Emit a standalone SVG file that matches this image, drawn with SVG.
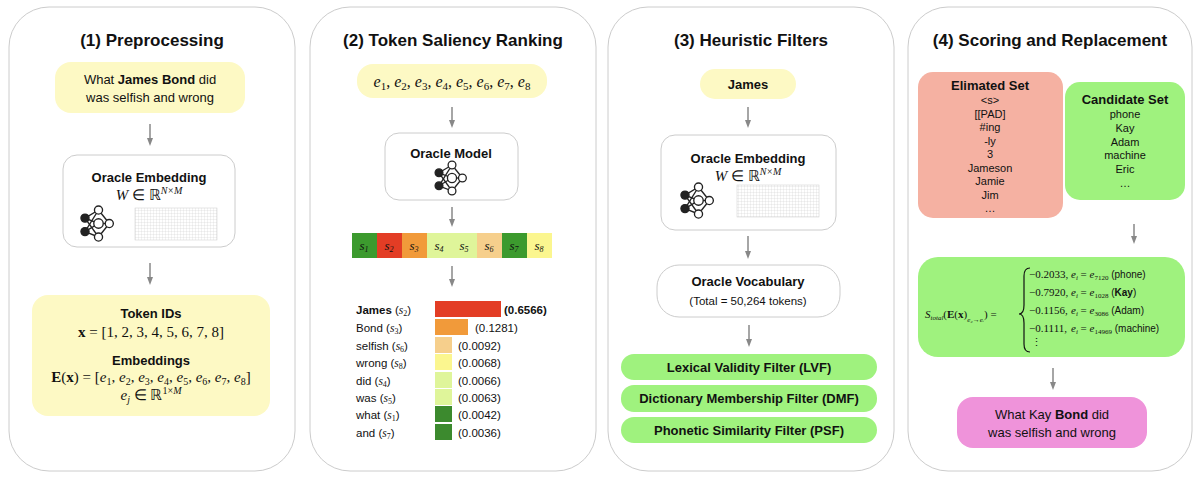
<svg xmlns="http://www.w3.org/2000/svg" width="1203" height="501" viewBox="0 0 1203 501">
<defs>
<marker id="ah" markerWidth="8" markerHeight="8" refX="4" refY="4" orient="auto" markerUnits="userSpaceOnUse"><path d="M0,1 L8,4 L0,7 Z" fill="#888"/></marker>
<pattern id="grid" width="3" height="3" patternUnits="userSpaceOnUse"><path d="M3,0 L0,0 0,3" fill="none" stroke="#ccc" stroke-width="0.5"/></pattern>
<g id="nn" fill="#fff" stroke="#222" stroke-width="1">
<line x1="0" y1="6" x2="10" y2="0"/><line x1="0" y1="6" x2="10" y2="10"/><line x1="0" y1="6" x2="10" y2="20"/>
<line x1="0" y1="16" x2="10" y2="0"/><line x1="0" y1="16" x2="10" y2="10"/><line x1="0" y1="16" x2="10" y2="20"/>
<line x1="10" y1="0" x2="18" y2="10"/><line x1="10" y1="10" x2="18" y2="10"/><line x1="10" y1="20" x2="18" y2="10"/>
<circle cx="0" cy="6" r="3" fill="#222"/><circle cx="0" cy="16" r="3" fill="#222"/>
<circle cx="10" cy="0" r="3"/><circle cx="10" cy="10" r="3.5"/><circle cx="10" cy="20" r="3"/><circle cx="18" cy="10" r="3"/>
</g>
</defs>
<style>
.panel{fill:#fff;stroke:#ccc;stroke-width:1}
.t{font-family:"Liberation Sans",Arial,sans-serif;fill:#111}
.title{font-family:"Liberation Sans",Arial,sans-serif;font-weight:bold;font-size:17px;text-anchor:middle;fill:#111}
.m{font-family:"Liberation Serif","Times New Roman",serif;fill:#111}
.b{font-weight:bold}
.c{text-anchor:middle}
.wbox{fill:#fff;stroke:#ccc;stroke-width:1}
.yel{fill:#fdf9c4}
.grn{fill:#9ff27e}
.conn line{stroke:#888;stroke-width:1.5;marker-end:url(#ah)}
</style>
<rect width="1203" height="501" fill="#fff"/>
<g id="panels">
<rect class="panel" x="9" y="7" width="286" height="464" rx="40"/>
<rect class="panel" x="310" y="7" width="286" height="464" rx="40"/>
<rect class="panel" x="608" y="7" width="286" height="464" rx="40"/>
<rect class="panel" x="908" y="7" width="284" height="464" rx="40"/>
<text class="title" x="152" y="46">(1) Preprocessing</text>
<text class="title" x="453" y="46">(2) Token Saliency Ranking</text>
<text class="title" x="751" y="46">(3) Heuristic Filters</text>
<text class="title" x="1050" y="46">(4) Scoring and Replacement</text>
</g>
<g id="input1">
<rect class="yel" x="55" y="62" width="190" height="51" rx="16"/>
<text class="t c" x="150" y="84" font-size="13">What <tspan class="b">James Bond</tspan> did</text>
<text class="t c" x="150" y="102" font-size="13">was selfish and wrong</text>
</g>
<g id="emb1">
<rect class="wbox" x="63" y="155" width="172" height="92" rx="14"/>
<text class="t c b" x="149" y="182" font-size="13">Oracle Embedding</text>
<text class="m c" x="149" y="200" font-size="15"><tspan font-style="italic">W</tspan> ∈ ℝ<tspan font-size="10" dy="-6" font-style="italic">N×M</tspan></text>
<use href="#nn" transform="translate(85 210) scale(1.35)"/>
<rect x="135" y="208" width="82" height="32" fill="url(#grid)" stroke="#ccc" stroke-width="0.5"/>
</g>
<g id="tokens1">
<rect class="yel" x="32" y="295" width="238" height="121" rx="16"/>
<text class="t c b" x="151" y="318" font-size="13">Token IDs</text>
<text class="m c" x="151" y="337" font-size="15"><tspan font-weight="bold">x</tspan> = [1, 2, 3, 4, 5, 6, 7, 8]</text>
<text class="t c b" x="151" y="365" font-size="13">Embeddings</text>
<text class="m c" x="151" y="382" font-size="15"><tspan font-weight="bold">E</tspan>(<tspan font-weight="bold">x</tspan>) = [<tspan font-style="italic">e</tspan><tspan font-size="10" dy="3">1</tspan><tspan dy="-3">, </tspan><tspan font-style="italic">e</tspan><tspan font-size="10" dy="3">2</tspan><tspan dy="-3">, </tspan><tspan font-style="italic">e</tspan><tspan font-size="10" dy="3">3</tspan><tspan dy="-3">, </tspan><tspan font-style="italic">e</tspan><tspan font-size="10" dy="3">4</tspan><tspan dy="-3">, </tspan><tspan font-style="italic">e</tspan><tspan font-size="10" dy="3">5</tspan><tspan dy="-3">, </tspan><tspan font-style="italic">e</tspan><tspan font-size="10" dy="3">6</tspan><tspan dy="-3">, </tspan><tspan font-style="italic">e</tspan><tspan font-size="10" dy="3">7</tspan><tspan dy="-3">, </tspan><tspan font-style="italic">e</tspan><tspan font-size="10" dy="3">8</tspan><tspan dy="-3">]</tspan></text>
<text class="m c" x="151" y="400" font-size="15"><tspan font-style="italic">e</tspan><tspan font-size="10" dy="3" font-style="italic">j</tspan><tspan dy="-3"> ∈ ℝ</tspan><tspan font-size="10" dy="-6">1×<tspan font-style="italic">M</tspan></tspan></text>
</g>
<g id="seq2">
<rect class="yel" x="357" y="64" width="190" height="34" rx="16"/>
<text class="m c" x="452" y="87" font-size="16"><tspan font-style="italic">e</tspan><tspan font-size="11" dy="3">1</tspan><tspan dy="-3">, </tspan><tspan font-style="italic">e</tspan><tspan font-size="11" dy="3">2</tspan><tspan dy="-3">, </tspan><tspan font-style="italic">e</tspan><tspan font-size="11" dy="3">3</tspan><tspan dy="-3">, </tspan><tspan font-style="italic">e</tspan><tspan font-size="11" dy="3">4</tspan><tspan dy="-3">, </tspan><tspan font-style="italic">e</tspan><tspan font-size="11" dy="3">5</tspan><tspan dy="-3">, </tspan><tspan font-style="italic">e</tspan><tspan font-size="11" dy="3">6</tspan><tspan dy="-3">, </tspan><tspan font-style="italic">e</tspan><tspan font-size="11" dy="3">7</tspan><tspan dy="-3">, </tspan><tspan font-style="italic">e</tspan><tspan font-size="11" dy="3">8</tspan></text>
</g>
<g id="model2">
<rect class="wbox" x="385" y="133" width="133" height="67" rx="14"/>
<text class="t c b" x="451" y="158" font-size="13">Oracle Model</text>
<use href="#nn" transform="translate(439 165) scale(1.3)"/>
</g>
<g id="strip2">
<rect x="352" y="233" width="25" height="25" fill="#3c9a2e"/>
<rect x="377" y="233" width="25" height="25" fill="#e33d25"/>
<rect x="402" y="233" width="25" height="25" fill="#f19a3a"/>
<rect x="427" y="233" width="25" height="25" fill="#dff59a"/>
<rect x="452" y="233" width="25" height="25" fill="#dff59a"/>
<rect x="477" y="233" width="25" height="25" fill="#f6cf8c"/>
<rect x="502" y="233" width="25" height="25" fill="#3c9a2e"/>
<rect x="527" y="233" width="25" height="25" fill="#fbf68f"/>
<g class="m" font-size="13" font-style="italic" text-anchor="middle">
<text x="364" y="250">s<tspan font-size="8" dy="2">1</tspan></text>
<text x="389" y="250">s<tspan font-size="8" dy="2">2</tspan></text>
<text x="414" y="250">s<tspan font-size="8" dy="2">3</tspan></text>
<text x="439" y="250">s<tspan font-size="8" dy="2">4</tspan></text>
<text x="464" y="250">s<tspan font-size="8" dy="2">5</tspan></text>
<text x="489" y="250">s<tspan font-size="8" dy="2">6</tspan></text>
<text x="514" y="250">s<tspan font-size="8" dy="2">7</tspan></text>
<text x="539" y="250">s<tspan font-size="8" dy="2">8</tspan></text>
</g>
</g>
<g id="ranking2" font-size="11.5">
<text class="t" x="356" y="314"><tspan class="b">James</tspan> (<tspan class="m" font-style="italic">s</tspan><tspan class="m" font-size="8" dy="2">2</tspan><tspan dy="-2">)</tspan></text>
<text class="t" x="356" y="332">Bond (<tspan class="m" font-style="italic">s</tspan><tspan class="m" font-size="8" dy="2">3</tspan><tspan dy="-2">)</tspan></text>
<text class="t" x="356" y="350">selfish (<tspan class="m" font-style="italic">s</tspan><tspan class="m" font-size="8" dy="2">6</tspan><tspan dy="-2">)</tspan></text>
<text class="t" x="356" y="367">wrong (<tspan class="m" font-style="italic">s</tspan><tspan class="m" font-size="8" dy="2">8</tspan><tspan dy="-2">)</tspan></text>
<text class="t" x="356" y="385">did (<tspan class="m" font-style="italic">s</tspan><tspan class="m" font-size="8" dy="2">4</tspan><tspan dy="-2">)</tspan></text>
<text class="t" x="356" y="402">was (<tspan class="m" font-style="italic">s</tspan><tspan class="m" font-size="8" dy="2">5</tspan><tspan dy="-2">)</tspan></text>
<text class="t" x="356" y="419">what (<tspan class="m" font-style="italic">s</tspan><tspan class="m" font-size="8" dy="2">1</tspan><tspan dy="-2">)</tspan></text>
<text class="t" x="356" y="437">and (<tspan class="m" font-style="italic">s</tspan><tspan class="m" font-size="8" dy="2">7</tspan><tspan dy="-2">)</tspan></text>
<rect x="435" y="301" width="66" height="16" fill="#e33d25"/>
<rect x="435" y="319" width="33" height="16" fill="#f19a3a"/>
<rect x="435" y="337" width="17" height="16" fill="#f6cf8c"/>
<rect x="435" y="354" width="17" height="16" fill="#fbf68f"/>
<rect x="435" y="372" width="17" height="16" fill="#dff59a"/>
<rect x="435" y="389" width="17" height="16" fill="#dff59a"/>
<rect x="435" y="406" width="17" height="16" fill="#3c8a2e"/>
<rect x="435" y="424" width="17" height="16" fill="#3c8a2e"/>
<text class="t b" x="504" y="314">(0.6566)</text>
<text class="t" x="475" y="332">(0.1281)</text>
<text class="t" x="458" y="350">(0.0092)</text>
<text class="t" x="458" y="367">(0.0068)</text>
<text class="t" x="458" y="385">(0.0066)</text>
<text class="t" x="458" y="402">(0.0063)</text>
<text class="t" x="458" y="419">(0.0042)</text>
<text class="t" x="458" y="437">(0.0036)</text>
</g>
<g id="james3">
<rect class="yel" x="700" y="69" width="96" height="30" rx="15"/>
<text class="t c b" x="748" y="89" font-size="13">James</text>
</g>
<g id="emb3">
<rect class="wbox" x="661" y="135" width="175" height="95" rx="14"/>
<text class="t c b" x="748" y="163" font-size="13">Oracle Embedding</text>
<text class="m c" x="748" y="181" font-size="15"><tspan font-style="italic">W</tspan> ∈ ℝ<tspan font-size="10" dy="-6" font-style="italic">N×M</tspan></text>
<use href="#nn" transform="translate(685 187) scale(1.35)"/>
<rect x="737" y="185" width="82" height="32" fill="url(#grid)" stroke="#ccc" stroke-width="0.5"/>
</g>
<g id="vocab3">
<rect class="wbox" x="657" y="265" width="183" height="52" rx="22"/>
<text class="t c b" x="748" y="286" font-size="13">Oracle Vocabulary</text>
<text class="t c" x="748" y="305" font-size="11.5">(Total = 50,264 tokens)</text>
</g>
<g id="filters3">
<rect class="grn" x="621" y="354" width="256" height="26" rx="13"/>
<text class="t c b" x="749" y="372" font-size="13">Lexical Validity Filter (LVF)</text>
<rect class="grn" x="621" y="385" width="256" height="27" rx="13"/>
<text class="t c b" x="749" y="403" font-size="13">Dictionary Membership Filter (DMF)</text>
<rect class="grn" x="621" y="417" width="256" height="26" rx="13"/>
<text class="t c b" x="749" y="435" font-size="13">Phonetic Similarity Filter (PSF)</text>
</g>
<g id="elim4">
<rect x="918" y="72" width="145" height="146" rx="15" fill="#f5b1a2"/>
<text class="t c b" x="990" y="90" font-size="13">Elimated Set</text>
<g class="t c" font-size="11">
<text x="990" y="104">&lt;s&gt;</text><text x="990" y="118">[[PAD]</text><text x="990" y="131">#ing</text><text x="990" y="145">-ly</text><text x="990" y="158">3</text><text x="990" y="172">Jameson</text><text x="990" y="185">Jamie</text><text x="990" y="199">Jim</text><text x="990" y="212">…</text>
</g>
</g>
<g id="cand4">
<rect x="1065" y="82" width="120" height="118" rx="15" fill="#9ff27e"/>
<text class="t c b" x="1125" y="104" font-size="13">Candidate Set</text>
<g class="t c" font-size="11">
<text x="1125" y="118">phone</text><text x="1125" y="132">Kay</text><text x="1125" y="146">Adam</text><text x="1125" y="159">machine</text><text x="1125" y="173">Eric</text><text x="1125" y="187">…</text>
</g>
</g>
<g id="score4">
<rect class="grn" x="918" y="257" width="267" height="100" rx="20"/>
<text class="m" x="925" y="318" font-size="11"><tspan font-style="italic">S</tspan><tspan font-size="7" font-style="italic" dy="2">total</tspan><tspan dy="-2">(</tspan><tspan font-weight="bold">E</tspan>(<tspan font-weight="bold">x</tspan>)<tspan font-size="7" font-style="italic" dy="4">e₂→eᵢ</tspan><tspan dy="-4">) =</tspan></text>
<path d="M1030,268 Q1024,268 1024,276 L1024,305 Q1024,314 1019,314 Q1024,314 1024,323 L1024,344 Q1024,352 1030,352" fill="none" stroke="#111" stroke-width="1.2"/>
<g class="m" font-size="11">
<text x="1029" y="278">−0.2033,</text><text x="1071" y="278"><tspan font-style="italic">e</tspan><tspan font-size="7" font-style="italic" dy="2">i</tspan><tspan dy="-2"> = </tspan><tspan font-style="italic">e</tspan><tspan font-size="7" dy="2">7120</tspan><tspan dy="-2" font-family="Liberation Sans" font-size="10"> (phone)</tspan></text>
<text x="1029" y="296">−0.7920,</text><text x="1071" y="296"><tspan font-style="italic">e</tspan><tspan font-size="7" font-style="italic" dy="2">i</tspan><tspan dy="-2"> = </tspan><tspan font-style="italic">e</tspan><tspan font-size="7" dy="2">1028</tspan><tspan dy="-2" font-family="Liberation Sans" font-size="10"> (<tspan font-weight="bold">Kay</tspan>)</tspan></text>
<text x="1029" y="314">−0.1156,</text><text x="1071" y="314"><tspan font-style="italic">e</tspan><tspan font-size="7" font-style="italic" dy="2">i</tspan><tspan dy="-2"> = </tspan><tspan font-style="italic">e</tspan><tspan font-size="7" dy="2">3086</tspan><tspan dy="-2" font-family="Liberation Sans" font-size="10"> (Adam)</tspan></text>
<text x="1029" y="332">−0.1111,</text><text x="1071" y="332"><tspan font-style="italic">e</tspan><tspan font-size="7" font-style="italic" dy="2">i</tspan><tspan dy="-2"> = </tspan><tspan font-style="italic">e</tspan><tspan font-size="7" dy="2">14969</tspan><tspan dy="-2" font-family="Liberation Sans" font-size="10"> (machine)</tspan></text>
<text x="1031" y="346">⋮</text>
</g>
</g>
<g id="output4">
<rect x="957" y="397" width="190" height="51" rx="16" fill="#ef93da"/>
<text class="t c" x="1052" y="419" font-size="13">What Kay <tspan class="b">Bond</tspan> did</text>
<text class="t c" x="1052" y="437" font-size="13">was selfish and wrong</text>
</g>
<g class="conn" id="connectors">
<line x1="150" y1="124" x2="150" y2="142"/>
<line x1="150" y1="263" x2="150" y2="281"/>
<line x1="452" y1="107" x2="452" y2="124"/>
<line x1="452" y1="207" x2="452" y2="223"/>
<line x1="452" y1="266" x2="452" y2="283"/>
<line x1="748" y1="107" x2="748" y2="124"/>
<line x1="748" y1="236" x2="748" y2="255"/>
<line x1="749" y1="325" x2="749" y2="343"/>
<line x1="1134" y1="224" x2="1134" y2="240"/>
<line x1="1053" y1="368" x2="1053" y2="386"/>
</g>
</svg>
